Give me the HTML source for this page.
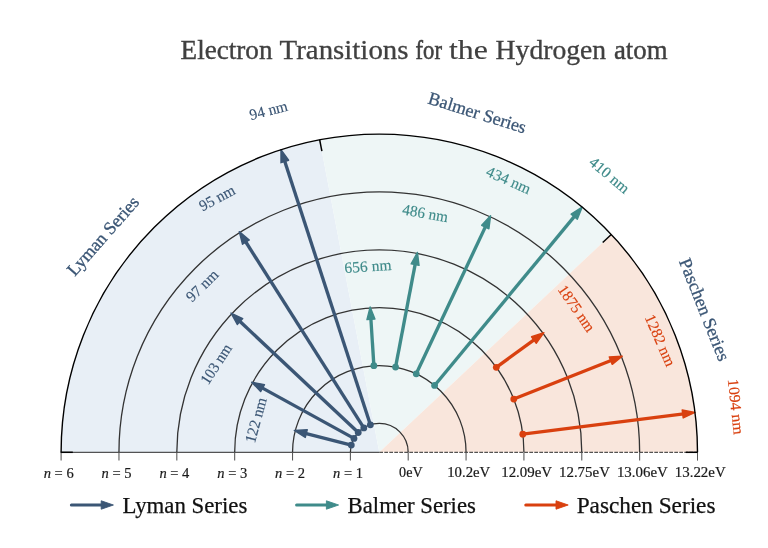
<!DOCTYPE html><html><head><meta charset="utf-8"><style>html,body{margin:0;padding:0;background:#fff}svg{display:block;will-change:transform}text{font-family:"Liberation Serif",serif}</style></head><body>
<svg width="768" height="548" viewBox="0 0 768 548">
<rect width="768" height="548" fill="#fff"/>
<path d="M379.3,452.3 L319.68,139.74 A318.2,318.2 0 0 0 61.10,452.30 Z" fill="#e8eff6"/>
<path d="M379.3,452.3 L611.26,234.48 A318.2,318.2 0 0 0 319.68,139.74 Z" fill="#eef6f6"/>
<path d="M379.3,452.3 L697.50,452.30 A318.2,318.2 0 0 0 611.26,234.48 Z" fill="#f9e6dc"/>
<path d="M350.40000000000003,452.3 A28.9,28.9 0 0 1 408.2,452.3" fill="none" stroke="#333" stroke-width="1.3"/>
<path d="M292.54,452.3 A86.75999999999999,86.75999999999999 0 0 1 466.06,452.3" fill="none" stroke="#333" stroke-width="1.3"/>
<path d="M234.68,452.3 A144.62,144.62 0 0 1 523.9200000000001,452.3" fill="none" stroke="#333" stroke-width="1.3"/>
<path d="M176.82000000000002,452.3 A202.48,202.48 0 0 1 581.78,452.3" fill="none" stroke="#333" stroke-width="1.3"/>
<path d="M118.96000000000004,452.3 A260.34,260.34 0 0 1 639.64,452.3" fill="none" stroke="#333" stroke-width="1.3"/>
<line x1="60.40000000000002" y1="452.3" x2="379.3" y2="452.3" stroke="#2a2a2a" stroke-width="1"/>
<line x1="379.3" y1="452.3" x2="698.2" y2="452.3" stroke="#2a2a2a" stroke-width="1" stroke-dasharray="3.7 1.3"/>
<line x1="350.40000000000003" y1="452.3" x2="350.40000000000003" y2="460.6" stroke="#555" stroke-width="1.05"/>
<line x1="408.2" y1="452.3" x2="408.2" y2="460.6" stroke="#555" stroke-width="1.05"/>
<line x1="292.54" y1="452.3" x2="292.54" y2="460.6" stroke="#555" stroke-width="1.05"/>
<line x1="466.06" y1="452.3" x2="466.06" y2="460.6" stroke="#555" stroke-width="1.05"/>
<line x1="234.68" y1="452.3" x2="234.68" y2="460.6" stroke="#555" stroke-width="1.05"/>
<line x1="523.9200000000001" y1="452.3" x2="523.9200000000001" y2="460.6" stroke="#555" stroke-width="1.05"/>
<line x1="176.82000000000002" y1="452.3" x2="176.82000000000002" y2="460.6" stroke="#555" stroke-width="1.05"/>
<line x1="581.78" y1="452.3" x2="581.78" y2="460.6" stroke="#555" stroke-width="1.05"/>
<line x1="118.96000000000004" y1="452.3" x2="118.96000000000004" y2="460.6" stroke="#555" stroke-width="1.05"/>
<line x1="639.64" y1="452.3" x2="639.64" y2="460.6" stroke="#555" stroke-width="1.05"/>
<line x1="61.10000000000002" y1="452.3" x2="61.10000000000002" y2="460.6" stroke="#555" stroke-width="1.05"/>
<line x1="697.5" y1="452.3" x2="697.5" y2="460.6" stroke="#555" stroke-width="1.05"/>
<line x1="61.10" y1="452.30" x2="72.80" y2="452.30" stroke="#000" stroke-width="1.5"/>
<line x1="319.68" y1="139.74" x2="321.87" y2="151.23" stroke="#000" stroke-width="1.5"/>
<line x1="611.26" y1="234.48" x2="602.73" y2="242.49" stroke="#000" stroke-width="1.5"/>
<line x1="697.50" y1="452.30" x2="685.80" y2="452.30" stroke="#000" stroke-width="1.5"/>
<line x1="351.31" y1="445.11" x2="305.34" y2="433.31" stroke="#3b5675" stroke-width="3.35"/><polygon points="294.30,430.47 307.30,429.68 305.31,437.43" fill="#3b5675" stroke="#3b5675" stroke-width="1.4" stroke-linejoin="round"/><circle cx="351.31" cy="445.11" r="3.4" fill="#3b5675"/>
<line x1="353.97" y1="438.38" x2="261.68" y2="387.64" stroke="#3b5675" stroke-width="3.35"/><polygon points="251.69,382.15 264.49,384.62 260.63,391.63" fill="#3b5675" stroke="#3b5675" stroke-width="1.4" stroke-linejoin="round"/><circle cx="353.97" cy="438.38" r="3.4" fill="#3b5675"/>
<line x1="358.23" y1="432.52" x2="239.28" y2="320.81" stroke="#3b5675" stroke-width="3.35"/><polygon points="230.97,313.01 242.75,318.58 237.27,324.41" fill="#3b5675" stroke="#3b5675" stroke-width="1.4" stroke-linejoin="round"/><circle cx="358.23" cy="432.52" r="3.4" fill="#3b5675"/>
<line x1="363.81" y1="427.90" x2="245.38" y2="241.27" stroke="#3b5675" stroke-width="3.35"/><polygon points="239.27,231.64 249.29,239.97 242.53,244.26" fill="#3b5675" stroke="#3b5675" stroke-width="1.4" stroke-linejoin="round"/><circle cx="363.81" cy="427.90" r="3.4" fill="#3b5675"/>
<line x1="370.37" y1="424.81" x2="284.49" y2="160.52" stroke="#3b5675" stroke-width="3.35"/><polygon points="280.97,149.67 288.61,160.23 281.00,162.70" fill="#3b5675" stroke="#3b5675" stroke-width="1.4" stroke-linejoin="round"/><circle cx="370.37" cy="424.81" r="3.4" fill="#3b5675"/>
<line x1="373.85" y1="365.71" x2="370.87" y2="318.34" stroke="#3f8b8a" stroke-width="3.35"/><polygon points="370.16,306.97 374.93,319.09 366.94,319.59" fill="#3f8b8a" stroke="#3f8b8a" stroke-width="1.4" stroke-linejoin="round"/><circle cx="373.85" cy="365.71" r="3.4" fill="#3f8b8a"/>
<line x1="395.56" y1="367.08" x2="415.29" y2="263.62" stroke="#3f8b8a" stroke-width="3.35"/><polygon points="417.43,252.42 419.03,265.35 411.18,263.86" fill="#3f8b8a" stroke="#3f8b8a" stroke-width="1.4" stroke-linejoin="round"/><circle cx="395.56" cy="367.08" r="3.4" fill="#3f8b8a"/>
<line x1="416.24" y1="373.80" x2="485.72" y2="226.15" stroke="#3f8b8a" stroke-width="3.35"/><polygon points="490.57,215.83 488.91,228.76 481.67,225.35" fill="#3f8b8a" stroke="#3f8b8a" stroke-width="1.4" stroke-linejoin="round"/><circle cx="416.24" cy="373.80" r="3.4" fill="#3f8b8a"/>
<line x1="434.60" y1="385.45" x2="574.86" y2="215.91" stroke="#3f8b8a" stroke-width="3.35"/><polygon points="582.13,207.12 577.31,219.23 571.14,214.13" fill="#3f8b8a" stroke="#3f8b8a" stroke-width="1.4" stroke-linejoin="round"/><circle cx="434.60" cy="385.45" r="3.4" fill="#3f8b8a"/>
<line x1="496.30" y1="367.29" x2="534.70" y2="339.40" stroke="#d9400f" stroke-width="3.35"/><polygon points="543.92,332.70 536.24,343.22 531.54,336.75" fill="#d9400f" stroke="#d9400f" stroke-width="1.4" stroke-linejoin="round"/><circle cx="496.30" cy="367.29" r="3.4" fill="#d9400f"/>
<line x1="513.76" y1="399.06" x2="611.69" y2="360.29" stroke="#d9400f" stroke-width="3.35"/><polygon points="622.29,356.09 612.23,364.38 609.29,356.94" fill="#d9400f" stroke="#d9400f" stroke-width="1.4" stroke-linejoin="round"/><circle cx="513.76" cy="399.06" r="3.4" fill="#d9400f"/>
<line x1="522.78" y1="434.17" x2="683.68" y2="413.85" stroke="#d9400f" stroke-width="3.35"/><polygon points="694.99,412.42 683.19,417.94 682.19,410.00" fill="#d9400f" stroke="#d9400f" stroke-width="1.4" stroke-linejoin="round"/><circle cx="522.78" cy="434.17" r="3.4" fill="#d9400f"/>
<path d="M61.10000000000002,452.3 A318.2,318.2 0 0 1 697.5,452.3" fill="none" stroke="#000" stroke-width="1.4"/>
<text x="333.0" y="478.1" font-size="14.3" fill="#1a1a1a" stroke="#1a1a1a" stroke-width="0.2" textLength="30" lengthAdjust="spacingAndGlyphs"><tspan font-style="italic">n</tspan> = 1</text>
<text x="275.1" y="478.1" font-size="14.3" fill="#1a1a1a" stroke="#1a1a1a" stroke-width="0.2" textLength="30" lengthAdjust="spacingAndGlyphs"><tspan font-style="italic">n</tspan> = 2</text>
<text x="217.3" y="478.1" font-size="14.3" fill="#1a1a1a" stroke="#1a1a1a" stroke-width="0.2" textLength="30" lengthAdjust="spacingAndGlyphs"><tspan font-style="italic">n</tspan> = 3</text>
<text x="159.4" y="478.1" font-size="14.3" fill="#1a1a1a" stroke="#1a1a1a" stroke-width="0.2" textLength="30" lengthAdjust="spacingAndGlyphs"><tspan font-style="italic">n</tspan> = 4</text>
<text x="101.6" y="478.1" font-size="14.3" fill="#1a1a1a" stroke="#1a1a1a" stroke-width="0.2" textLength="30" lengthAdjust="spacingAndGlyphs"><tspan font-style="italic">n</tspan> = 5</text>
<text x="43.7" y="478.1" font-size="14.3" fill="#1a1a1a" stroke="#1a1a1a" stroke-width="0.2" textLength="30" lengthAdjust="spacingAndGlyphs"><tspan font-style="italic">n</tspan> = 6</text>
<text x="399.1" y="477.0" font-size="14.3" fill="#1a1a1a" stroke="#1a1a1a" stroke-width="0.2" textLength="23.599999999999998" lengthAdjust="spacingAndGlyphs">0eV</text>
<text x="447.2" y="477.0" font-size="14.3" fill="#1a1a1a" stroke="#1a1a1a" stroke-width="0.2" textLength="43.1" lengthAdjust="spacingAndGlyphs">10.2eV</text>
<text x="501.2" y="477.0" font-size="14.3" fill="#1a1a1a" stroke="#1a1a1a" stroke-width="0.2" textLength="50.9" lengthAdjust="spacingAndGlyphs">12.09eV</text>
<text x="559.0" y="477.0" font-size="14.3" fill="#1a1a1a" stroke="#1a1a1a" stroke-width="0.2" textLength="50.9" lengthAdjust="spacingAndGlyphs">12.75eV</text>
<text x="616.9" y="477.0" font-size="14.3" fill="#1a1a1a" stroke="#1a1a1a" stroke-width="0.2" textLength="50.9" lengthAdjust="spacingAndGlyphs">13.06eV</text>
<text x="674.8" y="477.0" font-size="14.3" fill="#1a1a1a" stroke="#1a1a1a" stroke-width="0.2" textLength="50.9" lengthAdjust="spacingAndGlyphs">13.22eV</text>
<text x="180.6" y="58.5" font-size="26.8" fill="#404040" stroke="#404040" stroke-width="0.35" textLength="91.9" lengthAdjust="spacingAndGlyphs">Electron</text>
<text x="279.6" y="58.5" font-size="26.8" fill="#404040" stroke="#404040" stroke-width="0.28" textLength="128.9" lengthAdjust="spacingAndGlyphs">Transitions</text>
<text x="415.6" y="58.5" font-size="26.8" fill="#404040" stroke="#404040" stroke-width="0.6" textLength="26.3" lengthAdjust="spacingAndGlyphs">for</text>
<text x="448.9" y="58.5" font-size="26.8" fill="#404040" stroke="#404040" stroke-width="0.12" textLength="39.0" lengthAdjust="spacingAndGlyphs">the</text>
<text x="495.6" y="58.5" font-size="26.8" fill="#404040" stroke="#404040" stroke-width="0.3" textLength="110.6" lengthAdjust="spacingAndGlyphs">Hydrogen</text>
<text x="613.9" y="58.5" font-size="26.8" fill="#404040" stroke="#404040" stroke-width="0.4" textLength="53.6" lengthAdjust="spacingAndGlyphs">atom</text>
<line x1="71.4" y1="505" x2="103.8" y2="505" stroke="#3b5675" stroke-width="3.1" stroke-linecap="round"/><polygon points="113.39999999999999,505 101.2,500.8 101.2,509.2" fill="#3b5675" stroke="#3b5675" stroke-width="0.9" stroke-linejoin="round"/><text x="122.5" y="512.9" font-size="22.6" fill="#111" stroke="#111" stroke-width="0.25" textLength="124.8" lengthAdjust="spacingAndGlyphs">Lyman Series</text>
<line x1="296.6" y1="505" x2="329.0" y2="505" stroke="#3f8b8a" stroke-width="3.1" stroke-linecap="round"/><polygon points="338.6,505 326.4,500.8 326.4,509.2" fill="#3f8b8a" stroke="#3f8b8a" stroke-width="0.9" stroke-linejoin="round"/><text x="347.6" y="512.9" font-size="22.6" fill="#111" stroke="#111" stroke-width="0.25" textLength="128.3" lengthAdjust="spacingAndGlyphs">Balmer Series</text>
<line x1="525.8" y1="505" x2="558.6" y2="505" stroke="#d9400f" stroke-width="3.1" stroke-linecap="round"/><polygon points="568.2,505 556.0,500.8 556.0,509.2" fill="#d9400f" stroke="#d9400f" stroke-width="0.9" stroke-linejoin="round"/><text x="576.7" y="512.9" font-size="22.6" fill="#111" stroke="#111" stroke-width="0.25" textLength="138.8" lengthAdjust="spacingAndGlyphs">Paschen Series</text>
<text transform="translate(251.1,120.3) rotate(-14.9)" font-size="15.5" fill="#3b5675" stroke="#3b5675" stroke-width="0.15" textLength="38.8" lengthAdjust="spacingAndGlyphs">94 nm</text>
<text transform="translate(202.6,211.5) rotate(-28.2)" font-size="15.5" fill="#3b5675" stroke="#3b5675" stroke-width="0.15" textLength="38.3" lengthAdjust="spacingAndGlyphs">95 nm</text>
<text transform="translate(192.0,302.8) rotate(-44.6)" font-size="15.5" fill="#3b5675" stroke="#3b5675" stroke-width="0.15" textLength="38.6" lengthAdjust="spacingAndGlyphs">97 nm</text>
<text transform="translate(208.2,385.6) rotate(-57.0)" font-size="15.5" fill="#3b5675" stroke="#3b5675" stroke-width="0.15" textLength="44.8" lengthAdjust="spacingAndGlyphs">103 nm</text>
<text transform="translate(254.8,443.8) rotate(-74.8)" font-size="15.5" fill="#3b5675" stroke="#3b5675" stroke-width="0.15" textLength="46.1" lengthAdjust="spacingAndGlyphs">122 nm</text>
<text transform="translate(344.8,273.1) rotate(-3.8)" font-size="15.5" fill="#3f8b8a" stroke="#3f8b8a" stroke-width="0.15" textLength="47.0" lengthAdjust="spacingAndGlyphs">656 nm</text>
<text transform="translate(401.8,214.3) rotate(10.0)" font-size="15.5" fill="#3f8b8a" stroke="#3f8b8a" stroke-width="0.15" textLength="45.9" lengthAdjust="spacingAndGlyphs">486 nm</text>
<text transform="translate(485.1,175.3) rotate(23.9)" font-size="15.5" fill="#3f8b8a" stroke="#3f8b8a" stroke-width="0.15" textLength="46.9" lengthAdjust="spacingAndGlyphs">434 nm</text>
<text transform="translate(587.9,163.8) rotate(40.0)" font-size="15.5" fill="#3f8b8a" stroke="#3f8b8a" stroke-width="0.15" textLength="47.4" lengthAdjust="spacingAndGlyphs">410 nm</text>
<text transform="translate(557.3,289.6) rotate(55.3)" font-size="15.5" fill="#d9400f" stroke="#d9400f" stroke-width="0.15" textLength="52.8" lengthAdjust="spacingAndGlyphs">1875 nm</text>
<text transform="translate(644.4,317.3) rotate(66.2)" font-size="15.5" fill="#d9400f" stroke="#d9400f" stroke-width="0.15" textLength="54.8" lengthAdjust="spacingAndGlyphs">1282 nm</text>
<text transform="translate(727.8,379.6) rotate(83.8)" font-size="15.5" fill="#d9400f" stroke="#d9400f" stroke-width="0.15" textLength="55.6" lengthAdjust="spacingAndGlyphs">1094 nm</text>
<text transform="translate(74.8,276.9) rotate(-48.6)" font-size="18" fill="#3b5675" stroke="#3b5675" stroke-width="0.3" textLength="99.0" lengthAdjust="spacingAndGlyphs">Lyman Series</text>
<text transform="translate(427.1,103.3) rotate(17.3)" font-size="18" fill="#3b5675" stroke="#3b5675" stroke-width="0.3" textLength="101.5" lengthAdjust="spacingAndGlyphs">Balmer Series</text>
<text transform="translate(678.8,261.2) rotate(68.3)" font-size="18" fill="#3b5675" stroke="#3b5675" stroke-width="0.3" textLength="108.8" lengthAdjust="spacingAndGlyphs">Paschen Series</text>
</svg></body></html>
